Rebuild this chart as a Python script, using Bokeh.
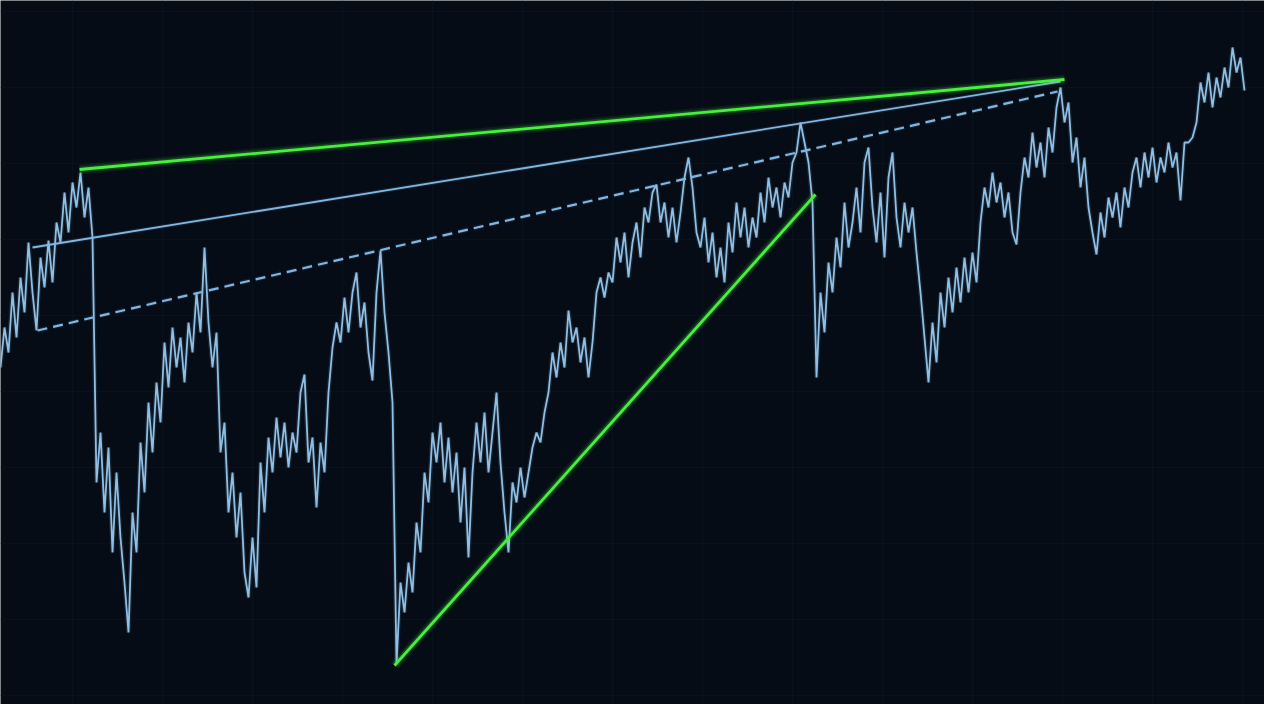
from bokeh.plotting import figure
from bokeh.models import Range1d, FixedTicker
from bokeh.embed import file_html
from bokeh.resources import INLINE

# ---- data ----
# price level per bar (bars are equally spaced)
price = [
    335, 380, 345, 385, 360, 420, 375, 435, 400, 470, 420, 382, 455, 425, 472, 430, 490, 470, 520, 480, 530, 505, 540, 495, 525, 475,
    230, 280, 200, 265, 160, 240, 175, 130, 80, 200, 160, 270, 220, 310, 260, 330, 290, 370, 325, 385, 345, 375, 330, 390, 360,
    420, 380, 465, 390, 345, 380, 260, 290, 200, 240, 175, 220, 140, 115, 175, 125, 250, 200, 275, 240, 295, 255, 290, 245, 280,
    260, 320, 338, 250, 275, 205, 270, 240, 320, 365, 390, 370, 415, 380, 420, 440, 385, 410, 360, 332, 420, 462, 400, 360, 310,
    48, 130, 100, 150, 120, 190, 160, 240, 210, 280, 250, 290, 230, 275, 220, 260, 190, 245, 155, 240, 290, 250, 300, 240, 280,
    320, 250, 200, 160, 230, 210, 245, 215, 240, 265, 280, 270, 300, 320, 360, 335, 370, 345, 402, 370, 385, 350, 375, 335, 370,
    420, 435, 415, 440, 430, 475, 450, 480, 435, 470, 490, 455, 505, 490, 520, 528, 490, 510, 475, 505, 470, 500, 535, 555, 525,
    480, 465, 495, 450, 480, 435, 465, 430, 490, 460, 510, 475, 505, 465, 495, 475, 520, 490, 535, 505, 525, 495, 530, 515, 550,
    560, 590, 570, 550, 510, 335, 420, 380, 450, 420, 475, 445, 510, 465, 490, 525, 480, 550, 565, 505, 470, 520, 455, 535, 560,
    495, 465, 510, 480, 505, 460, 420, 375, 330, 390, 350, 420, 385, 435, 400, 445, 410, 455, 420, 460, 430, 490, 525, 505, 540,
    510, 530, 495, 520, 480, 468, 520, 555, 535, 580, 545, 570, 535, 585, 560, 605, 625, 590, 610, 550, 575, 525, 555, 505, 480,
    458, 500, 475, 515, 495, 520, 485, 525, 505, 540, 555, 525, 560, 535, 565, 530, 555, 540, 570, 545, 560, 512, 570, 570, 575,
    590, 630, 610, 640, 605, 635, 615, 645, 625, 665, 640, 655, 622,
]
bars = list(range(len(price)))

# trend lines: [start, end] in (bar, price)
upper_green_bars = [21.75, 268.0]
upper_green_price = [543, 633]
blue_solid_bars = [10.0, 267.0]
blue_solid_price = [465, 631]
blue_dash_bars = [11.25, 266.25]
blue_dash_price = [382, 621]
lower_green_bars = [100.5, 205.75]
lower_green_price = [47, 518]

grid_x = [20 + 22.5 * k for k in range(14)]
grid_y = [17 + 76 * k for k in range(10)]

BG = "#050c15"
PRICE_COL = "#96c8ee"
BLUE_COL = "#80b7e2"
GREEN_COL = "#46f03c"

p = figure(width=1264, height=704, output_backend="svg", toolbar_location=None,
           x_range=Range1d(2, 318), y_range=Range1d(8, 712),
           background_fill_color=BG, border_fill_color=BG, min_border=0,
           outline_line_color=None)
p.xaxis.visible = False
p.yaxis.visible = False
p.xgrid.ticker = FixedTicker(ticks=grid_x)
p.ygrid.ticker = FixedTicker(ticks=grid_y)
p.xgrid.grid_line_color = "#0a1520"
p.ygrid.grid_line_color = "#0a1520"
p.xgrid.grid_line_alpha = 0.7
p.ygrid.grid_line_alpha = 0.7

# price line with soft glow
p.line(bars, price, line_color=PRICE_COL, line_width=4.5, line_alpha=0.12)
p.line(bars, price, line_color=PRICE_COL, line_width=1.8, line_alpha=0.95)

# blue trend lines
p.line(blue_solid_bars, blue_solid_price, line_color=BLUE_COL, line_width=4, line_alpha=0.12)
p.line(blue_solid_bars, blue_solid_price, line_color=BLUE_COL, line_width=1.8)
p.line(blue_dash_bars, blue_dash_price, line_color=BLUE_COL, line_width=4.5, line_alpha=0.12, line_dash="10 6")
p.line(blue_dash_bars, blue_dash_price, line_color=BLUE_COL, line_width=2.2, line_dash="10 6")

# green trend lines with glow
for xs, ys in [(upper_green_bars, upper_green_price), (lower_green_bars, lower_green_price)]:
    p.line(xs, ys, line_color=GREEN_COL, line_width=10, line_alpha=0.08)
    p.line(xs, ys, line_color=GREEN_COL, line_width=6, line_alpha=0.18)
    p.line(xs, ys, line_color=GREEN_COL, line_width=2.8, line_alpha=1.0)

open("out.html", "w").write(file_html(p, INLINE))
